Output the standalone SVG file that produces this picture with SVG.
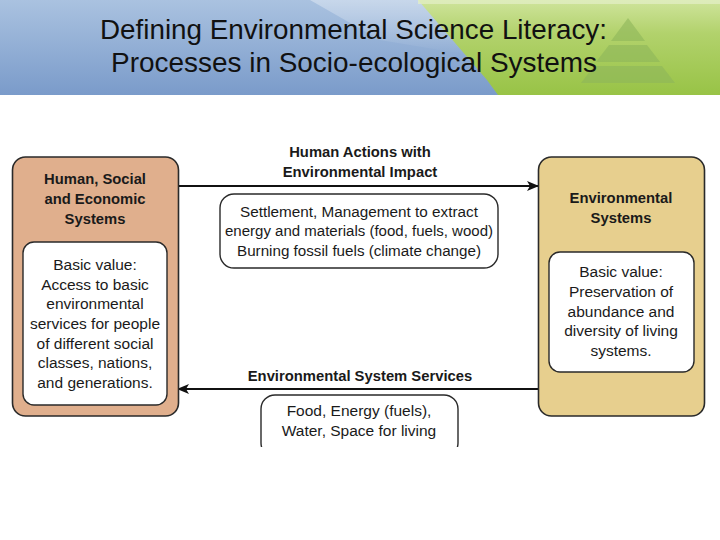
<svg xmlns="http://www.w3.org/2000/svg" width="720" height="540" viewBox="0 0 720 540">
  <defs>
    <linearGradient id="blueG" x1="0" y1="0" x2="0" y2="1">
      <stop offset="0" stop-color="#aac2e0"/>
      <stop offset="1" stop-color="#7a9bca"/>
    </linearGradient>
    <linearGradient id="greenG" x1="0" y1="0" x2="0" y2="1">
      <stop offset="0" stop-color="#cfe49c"/>
      <stop offset="0.35" stop-color="#b2d26c"/>
      <stop offset="1" stop-color="#98c346"/>
    </linearGradient>
    <linearGradient id="wedgeG" x1="0" y1="0" x2="0" y2="1">
      <stop offset="0" stop-color="#ffffff" stop-opacity="0.35"/>
      <stop offset="1" stop-color="#ffffff" stop-opacity="0"/>
    </linearGradient>
    <marker id="arrow" viewBox="0 0 12 10" refX="11" refY="5" markerWidth="12" markerHeight="10" markerUnits="userSpaceOnUse" orient="auto">
      <path d="M0,0 L12,5 L0,10 L3,5 Z" fill="#111"/>
    </marker>
    <clipPath id="cut">
      <rect x="0" y="0" width="720" height="447"/>
    </clipPath>
    <style>
      .title { font-family: "Liberation Sans", Arial, sans-serif; font-size: 28px; fill: #111; }
      .hd { font-family: "Liberation Sans", Arial, sans-serif; font-weight: bold; font-size: 14.8px; fill: #1a1a1a; text-anchor: middle; }
      .tx { font-family: "Liberation Sans", Arial, sans-serif; font-size: 15.5px; fill: #1a1a1a; text-anchor: middle; }
      .outer { stroke: #2a2a2a; stroke-width: 1.6; }
      .inner { fill: #ffffff; stroke: #2a2a2a; stroke-width: 1.4; }
      .conn { stroke: #111; stroke-width: 2; fill: none; marker-end: url(#arrow); }
      .pyr { fill: #8db65a; opacity: 0.6; }
    </style>
  </defs>

  <!-- header banner -->
  <g id="header">
    <rect x="0" y="0" width="720" height="95" fill="url(#blueG)"/>
    <polygon points="310,0 430,0 470,55 380,40" fill="url(#wedgeG)"/>
    <polygon points="418,0 720,0 720,95 498,95 487,80" fill="url(#greenG)"/>
    <rect x="418" y="0" width="302" height="4" fill="#e4f0c8" opacity="0.7"/>
    <polygon class="pyr" points="628,18 645,41 611,41"/>
    <polygon class="pyr" points="609,45 647,45 660,62 596,62"/>
    <polygon class="pyr" points="594,66 662,66 675,83 581,83"/>
    <text class="title" x="100" y="39" textLength="507" lengthAdjust="spacingAndGlyphs">Defining Environmental Science Literacy:</text>
    <text class="title" x="111" y="72" textLength="486" lengthAdjust="spacingAndGlyphs">Processes in Socio-ecological Systems</text>
  </g>

  <!-- connectors -->
  <g id="connectors">
    <line class="conn" x1="178" y1="186" x2="538" y2="186"/>
    <line class="conn" x1="538" y1="389" x2="178" y2="389"/>
  </g>

  <!-- left node -->
  <g id="human-systems">
    <rect class="outer" x="12.5" y="157" width="166" height="259" rx="13" fill="#e0af8d"/>
    <text class="hd" x="95" y="184">Human, Social</text>
    <text class="hd" x="95" y="204">and Economic</text>
    <text class="hd" x="95" y="224">Systems</text>
    <rect class="inner" x="23" y="242" width="144" height="163" rx="11"/>
    <text class="tx" x="95" y="270">Basic value:</text>
    <text class="tx" x="95" y="290">Access to basic</text>
    <text class="tx" x="95" y="309">environmental</text>
    <text class="tx" x="95" y="329">services for people</text>
    <text class="tx" x="95" y="349">of different social</text>
    <text class="tx" x="95" y="368">classes, nations,</text>
    <text class="tx" x="95" y="388">and generations.</text>
  </g>

  <!-- right node -->
  <g id="environmental-systems">
    <rect class="outer" x="538.5" y="157" width="166" height="259" rx="13" fill="#e7cf8e"/>
    <text class="hd" x="621" y="203">Environmental</text>
    <text class="hd" x="621" y="223">Systems</text>
    <rect class="inner" x="549" y="252" width="145" height="120" rx="11"/>
    <text class="tx" x="621" y="277">Basic value:</text>
    <text class="tx" x="621" y="297">Preservation of</text>
    <text class="tx" x="621" y="317">abundance and</text>
    <text class="tx" x="621" y="336">diversity of living</text>
    <text class="tx" x="621" y="356">systems.</text>
  </g>

  <!-- top connector label and box -->
  <g id="human-actions">
    <text class="hd" x="360" y="157">Human Actions with</text>
    <text class="hd" x="360" y="177">Environmental Impact</text>
    <rect class="inner" x="220" y="194" width="278" height="74" rx="14"/>
    <text class="tx" x="359" y="217" textLength="238" lengthAdjust="spacingAndGlyphs">Settlement, Management to extract</text>
    <text class="tx" x="359" y="236" textLength="268" lengthAdjust="spacingAndGlyphs">energy and materials (food, fuels, wood)</text>
    <text class="tx" x="359" y="256" textLength="244" lengthAdjust="spacingAndGlyphs">Burning fossil fuels (climate change)</text>
  </g>

  <!-- bottom connector label and box -->
  <g id="system-services">
    <text class="hd" x="360" y="381">Environmental System Services</text>
    <rect class="inner" x="261" y="395" width="197" height="62" rx="14" clip-path="url(#cut)"/>
    <text class="tx" x="359" y="416">Food, Energy (fuels),</text>
    <text class="tx" x="359" y="436">Water, Space for living</text>
  </g>
</svg>
